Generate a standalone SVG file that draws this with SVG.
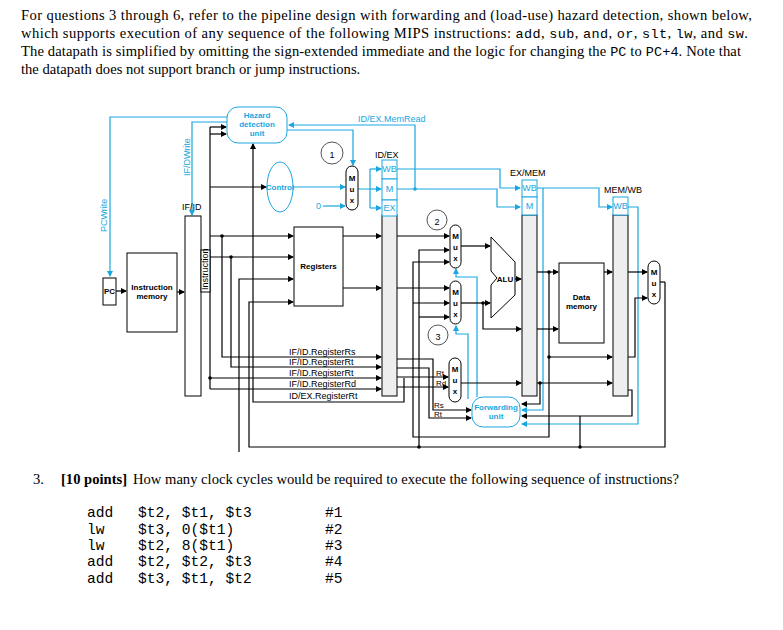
<svg xmlns="http://www.w3.org/2000/svg" width="783" height="630" viewBox="0 0 783 630">
<defs>
<marker id="a" viewBox="0 0 6 6" refX="5" refY="3" markerWidth="5" markerHeight="5" orient="auto"><path d="M0,0L6,3L0,6z" fill="#000"/></marker>
<marker id="b" viewBox="0 0 6 6" refX="5" refY="3" markerWidth="5" markerHeight="5" orient="auto"><path d="M0,0L6,3L0,6z" fill="#1aa7e0"/></marker>
<style>
.t{font-family:"Liberation Serif",serif;font-size:14.6px}
.m{font-family:"Liberation Mono",monospace;font-size:13.5px}
.cd{font-family:"Liberation Mono",monospace;font-size:14.6px}
.s{font-family:"Liberation Sans",Arial,sans-serif;font-size:9px}
.sb{font-family:"Liberation Sans",Arial,sans-serif;font-size:8px;font-weight:bold}
.bl{fill:#1aa7e0}
.k{stroke:#000;fill:none;stroke-width:1.2}
.c{stroke:#1aa7e0;fill:none;stroke-width:1.2}
.box{fill:#fff;stroke:#000;stroke-width:1}
.reg{fill:#eee;stroke:#000;stroke-width:1}
.bb{fill:#fff;stroke:#1aa7e0;stroke-width:1}
</style>
</defs>
<rect width="783" height="630" fill="#fff"/>
<g id="intro" class="t">
<text x="21" y="20" textLength="731" lengthAdjust="spacing">For questions 3 through 6, refer to the pipeline design with forwarding and (load-use) hazard detection, shown below,</text>
<text x="21" y="38" textLength="727" lengthAdjust="spacing">which supports execution of any sequence of the following MIPS instructions: <tspan class="m">add</tspan>, <tspan class="m">sub</tspan>, <tspan class="m">and</tspan>, <tspan class="m">or</tspan>, <tspan class="m">slt</tspan>, <tspan class="m">lw</tspan>, and <tspan class="m">sw</tspan>.</text>
<text x="21" y="56" textLength="720" lengthAdjust="spacing">The datapath is simplified by omitting the sign-extended immediate and the logic for changing the <tspan class="m">PC</tspan> to <tspan class="m">PC+4</tspan>. Note that</text>
<text x="21" y="74">the datapath does not support branch or jump instructions.</text>
</g>
<g id="connectors">
<path class="c" d="M227,117H110V276" marker-end="url(#b)"/>
<path class="c" d="M227,122H192V215" marker-end="url(#b)"/>
<path class="c" d="M415,189V125H289" marker-end="url(#b)"/>
<path class="c" d="M287,130H353V165" marker-end="url(#b)"/>
<path class="c" d="M293,187H345" marker-end="url(#b)"/>
<path class="c" d="M323,206H345" marker-end="url(#b)"/>
<path class="c" d="M358,189H370M370,169V208"/>
<path class="c" d="M370,169H381" marker-end="url(#b)"/><path class="c" d="M370,189H381" marker-end="url(#b)"/><path class="c" d="M370,208H381" marker-end="url(#b)"/>
<path class="c" d="M397,169H500V188H520" marker-end="url(#b)"/>
<path class="c" d="M397,189H497V207H520" marker-end="url(#b)"/>
<path class="c" d="M537,188H599V207H612" marker-end="url(#b)"/>
<path class="c" d="M543,188V410H522" marker-end="url(#b)"/>
<path class="c" d="M628,207H638V424H522" marker-end="url(#b)"/>
<path class="c" d="M477,397V277H456V269" marker-end="url(#b)"/>
<path class="c" d="M468,399V334H456V326" marker-end="url(#b)"/>
<circle cx="415" cy="189" r="1.8" class="bl"/>
<path class="k" d="M116,291H126" marker-end="url(#a)"/>
<path class="k" d="M177,292H184" marker-end="url(#a)"/>
<path class="k" d="M210,127V389"/>
<path class="k" d="M210,127H226" marker-end="url(#a)"/>
<path class="k" d="M210,134H226" marker-end="url(#a)"/>
<path class="k" d="M210,187H266" marker-end="url(#a)"/>
<path class="k" d="M210,236H293" marker-end="url(#a)"/>
<path class="k" d="M210,257H293" marker-end="url(#a)"/>
<path class="k" d="M222,236V357H381" marker-end="url(#a)"/>
<path class="k" d="M231,257V367H381" marker-end="url(#a)"/>
<path class="k" d="M210,378H381" marker-end="url(#a)"/>
<path class="k" d="M210,389H381" marker-end="url(#a)"/>
<path class="k" d="M404,378V402H253V144" marker-end="url(#a)"/>
<path class="k" d="M239,452V279H293" marker-end="url(#a)"/>
<path class="k" d="M665,282V447H249V302H293" marker-end="url(#a)"/>
<path class="k" d="M343,288H381" marker-end="url(#a)"/>
<path class="k" d="M343,236H381" marker-end="url(#a)"/>
<path class="k" d="M397,236H449" marker-end="url(#a)"/>
<path class="k" d="M397,288H449" marker-end="url(#a)"/>
<path class="k" d="M549,272V437H413V262H449" marker-end="url(#a)"/>
<path class="k" d="M413,303H449" marker-end="url(#a)"/>
<path class="k" d="M419,447V250H449" marker-end="url(#a)"/>
<path class="k" d="M419,317H449" marker-end="url(#a)"/>
<path class="k" d="M461,246H490" marker-end="url(#a)"/>
<path class="k" d="M461,303H490" marker-end="url(#a)"/>
<path class="k" d="M483,303V329H521" marker-end="url(#a)"/>
<path class="k" d="M515,279H521" marker-end="url(#a)"/>
<path class="k" d="M537,272H558" marker-end="url(#a)"/>
<path class="k" d="M537,329H558" marker-end="url(#a)"/>
<path class="k" d="M549,357H612" marker-end="url(#a)"/>
<path class="k" d="M604,272H612" marker-end="url(#a)"/>
<path class="k" d="M628,272H647" marker-end="url(#a)"/>
<path class="k" d="M628,357H635V298H647" marker-end="url(#a)"/>
<path class="k" d="M660,282H665"/>
<path class="k" d="M397,359H433V410H471" marker-end="url(#a)"/>
<path class="k" d="M397,368H429V418H471" marker-end="url(#a)"/>
<path class="k" d="M397,377H448" marker-end="url(#a)"/>
<path class="k" d="M397,387H448" marker-end="url(#a)"/>
<path class="k" d="M461,383H521" marker-end="url(#a)"/>
<path class="k" d="M537,383H612" marker-end="url(#a)"/>
<path class="k" d="M540,383V404H522" marker-end="url(#a)"/>
<path class="k" d="M628,390H632V416H522" marker-end="url(#a)"/>
<path class="k" d="M580,416V447"/>
<g fill="#000"><circle cx="222" cy="236" r="1.8"/><circle cx="231" cy="257" r="1.8"/><circle cx="210" cy="378" r="1.8"/><circle cx="549" cy="272" r="1.8"/><circle cx="483" cy="303" r="1.8"/><circle cx="549" cy="357" r="1.8"/><circle cx="419" cy="447" r="1.8"/><circle cx="540" cy="383" r="1.8"/><circle cx="580" cy="447" r="1.8"/></g>
<g class="s"><text x="289" y="355">IF/ID.RegisterRs</text><text x="289" y="365">IF/ID.RegisterRt</text><text x="289" y="376">IF/ID.RegisterRt</text><text x="289" y="387">IF/ID.RegisterRd</text><text x="289" y="399">ID/EX.RegisterRt</text>
<text x="436" y="376" font-size="8">Rt</text><text x="436" y="386" font-size="8">Rd</text><text x="434" y="408" font-size="8">Rs</text><text x="434" y="417" font-size="8">Rt</text></g>
<text class="s bl" x="316" y="209" font-size="8">0</text>
<text class="s bl" x="358" y="122" font-size="10">ID/EX.MemRead</text>
<text class="s bl" transform="translate(107,232) rotate(-90)" font-size="8">PCWrite</text>
<text class="s bl" transform="translate(190,176) rotate(-90)" font-size="8">IF/DWrite</text>
</g>
<g id="hazard"><rect x="227" y="107" width="60" height="36" rx="11" class="bb"/><text class="sb bl" text-anchor="middle"><tspan x="257" y="118">Hazard</tspan><tspan x="257" y="127">detection</tspan><tspan x="257" y="136">unit</tspan></text></g>
<g id="pc"><rect x="103" y="278" width="13" height="27" class="box"/><text class="sb" x="109.5" y="294" text-anchor="middle">PC</text></g>
<g id="imem"><rect x="127" y="253" width="50" height="79" class="box"/><text class="sb" text-anchor="middle"><tspan x="152" y="290">Instruction</tspan><tspan x="152" y="299">memory</tspan></text></g>
<g id="ifid"><text class="s" x="182" y="210" font-size="10">IF/ID</text><rect x="185" y="216" width="16" height="180" class="box"/><rect x="201" y="250" width="9" height="42" class="box"/><text class="s" transform="translate(208,290) rotate(-90)" font-size="7.5">Instruction</text></g>
<g id="control"><ellipse cx="280" cy="187" rx="13" ry="25" class="bb"/><text class="sb bl" x="280" y="189.5" text-anchor="middle" font-size="6.5">Control</text></g>
<g id="regs"><rect x="294" y="227" width="49" height="79" class="box"/><text class="sb" x="318.5" y="269" text-anchor="middle">Registers</text></g>
<g id="mux1"><rect x="346" y="166" width="12" height="44" rx="6" class="box"/><text class="sb" text-anchor="middle" font-size="9"><tspan x="352" y="181">M</tspan><tspan x="352" y="192">u</tspan><tspan x="352" y="203">x</tspan></text></g>
<circle cx="332" cy="153" r="11" fill="none" stroke="#555"/><text class="s" x="332" y="158" text-anchor="middle" font-size="12">1</text>
<g id="idex"><text class="s" x="375" y="158" font-size="10">ID/EX</text><rect x="382" y="215" width="15" height="181" class="reg"/><rect x="382" y="160" width="15" height="19" class="bb"/><rect x="382" y="179" width="15" height="21" class="bb"/><rect x="382" y="200" width="15" height="16" class="bb"/><text class="s bl" font-size="7.5" text-anchor="middle"><tspan x="389.5" y="172">WB</tspan><tspan x="389.5" y="192">M</tspan><tspan x="389.5" y="211">EX</tspan></text></g>
<g id="exmem"><text class="s" x="510" y="176" font-size="10">EX/MEM</text><rect x="522" y="215" width="15" height="181" class="reg"/><rect x="522" y="180" width="15" height="17" class="bb"/><rect x="522" y="197" width="15" height="18" class="bb"/><text class="s bl" font-size="7.5" text-anchor="middle"><tspan x="529.5" y="191">WB</tspan><tspan x="529.5" y="209">M</tspan></text></g>
<g id="memwb"><text class="s" x="604" y="193" font-size="10">MEM/WB</text><rect x="613" y="215" width="15" height="181" class="reg"/><rect x="613" y="197" width="15" height="18" class="bb"/><text class="s bl" font-size="7.5" x="620.5" y="209" text-anchor="middle">WB</text></g>
<g id="mux2"><rect x="450" y="225" width="11" height="43" rx="5.5" class="box"/><text class="sb" text-anchor="middle" font-size="9"><tspan x="455.5" y="239">M</tspan><tspan x="455.5" y="250">u</tspan><tspan x="455.5" y="261">x</tspan></text></g>
<circle cx="437" cy="220" r="10" fill="none" stroke="#555"/><text class="s" x="437" y="225" text-anchor="middle" font-size="12">2</text>
<g id="mux3"><rect x="450" y="281" width="11" height="43" rx="5.5" class="box"/><text class="sb" text-anchor="middle" font-size="9"><tspan x="455.5" y="295">M</tspan><tspan x="455.5" y="306">u</tspan><tspan x="455.5" y="317">x</tspan></text></g>
<circle cx="438" cy="335" r="10" fill="none" stroke="#555"/><text class="s" x="438" y="340" text-anchor="middle" font-size="12">3</text>
<g id="mux4"><rect x="449" y="358" width="12" height="44" rx="6" class="box"/><text class="sb" text-anchor="middle" font-size="9"><tspan x="455" y="372">M</tspan><tspan x="455" y="383">u</tspan><tspan x="455" y="394">x</tspan></text></g>
<g id="alu"><path d="M491,237L515,262V295L491,318V285L497,278L491,271Z" class="box"/><text class="sb" x="505" y="282" text-anchor="middle" font-size="7.5">ALU</text></g>
<g id="dmem"><rect x="559" y="263" width="45" height="80" class="box"/><text class="sb" text-anchor="middle"><tspan x="581.5" y="300">Data</tspan><tspan x="581.5" y="309">memory</tspan></text></g>
<g id="mux5"><rect x="648" y="261" width="12" height="43" rx="6" class="box"/><text class="sb" text-anchor="middle" font-size="9"><tspan x="654" y="275">M</tspan><tspan x="654" y="286">u</tspan><tspan x="654" y="297">x</tspan></text></g>
<g id="fwd"><rect x="472" y="397" width="48" height="30" rx="11" class="bb"/><text class="sb bl" text-anchor="middle" font-size="7.5"><tspan x="496" y="410">Forwarding</tspan><tspan x="496" y="419">unit</tspan></text></g>
<g id="question" class="t">
<text x="33" y="484">3.</text><text x="61" y="484" font-weight="bold">[10 points]</text><text x="133" y="484">How many clock cycles would be required to execute the following sequence of instructions?</text>
</g>
<g id="code" class="cd">
<text x="87" y="517">add</text><text x="138" y="517">$t2, $t1, $t3</text><text x="325" y="517">#1</text>
<text x="87" y="534">lw</text><text x="138" y="534">$t3, 0($t1)</text><text x="325" y="534">#2</text>
<text x="87" y="550">lw</text><text x="138" y="550">$t2, 8($t1)</text><text x="325" y="550">#3</text>
<text x="87" y="566">add</text><text x="138" y="566">$t2, $t2, $t3</text><text x="325" y="566">#4</text>
<text x="87" y="583">add</text><text x="138" y="583">$t3, $t1, $t2</text><text x="325" y="583">#5</text>
</g>
</svg>
